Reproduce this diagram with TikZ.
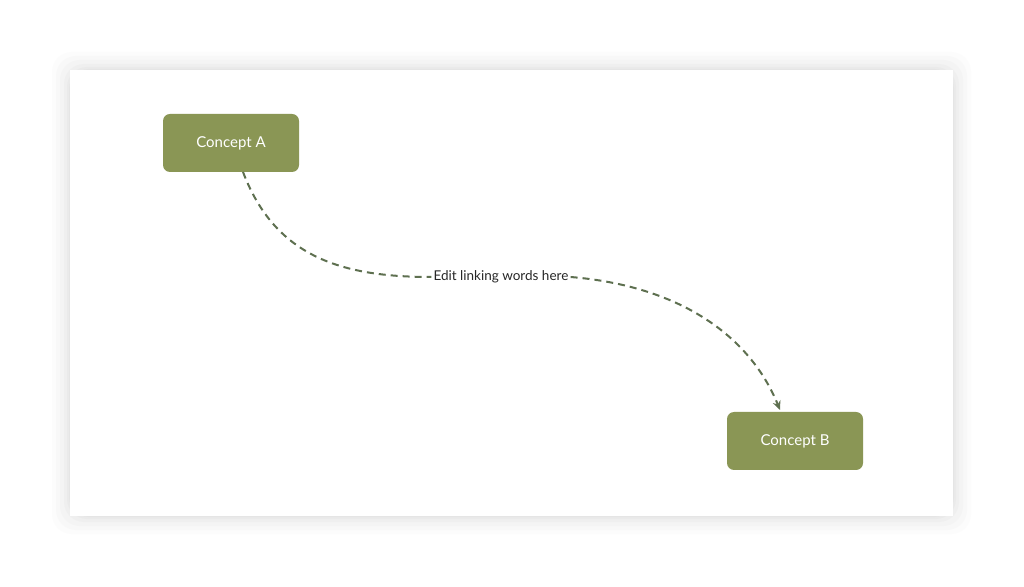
\documentclass[tikz,border=0pt]{standalone}
\usepackage{fontspec}
\setmainfont{Lato}
\usetikzlibrary{arrows.meta}
\definecolor{concept}{HTML}{8A9655}
\definecolor{link}{HTML}{5E7050}
\tikzset{
  concept/.style={fill=concept, rounded corners=7pt, minimum width=136pt, minimum height=58pt, text=white, font=\fontsize{15}{18}\selectfont, inner sep=0pt},
  linkline/.style={draw=link, line width=2pt, dash pattern=on 7pt off 5pt},
  linklabel/.style={fill=white, text=black!85, font=\fontsize{13.5}{16}\selectfont, inner sep=2pt}
}
\begin{document}
\begin{tikzpicture}[x=1pt,y=1pt]
\useasboundingbox (0,0) rectangle (1024,586);
\fill[white] (0,0) rectangle (1024,586);
\foreach \i/\c in {18/3,14/5,10/7,6/9,3/11,1/13}{
  \fill[black!\c, rounded corners=20pt, opacity=0.35] (70-\i,70-\i) rectangle (953+\i,516+\i);
}
\fill[white] (70,70) rectangle (953,516);
\node[concept] (a) at (231,443) {Concept A};
\node[concept] (b) at (795,145) {Concept B};
\node[linklabel] (l) at (501,309) {Edit linking words here};
\draw[linkline] (243,414) .. controls (275,330) and (340,309) .. (l.west);
\draw[linkline, -{Stealth[length=9pt,width=8pt]}] (l.east) .. controls (680,300) and (750,250) .. (780,176);
\end{tikzpicture}
\end{document}
